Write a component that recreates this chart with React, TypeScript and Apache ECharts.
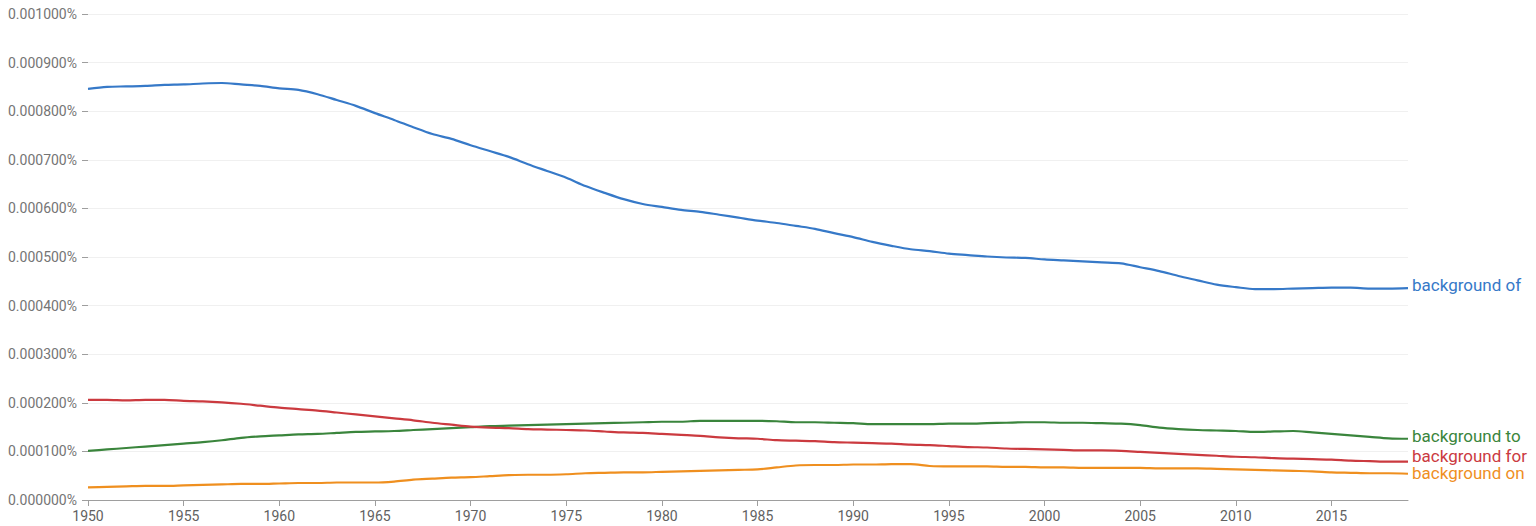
import React, { useEffect, useRef } from "react";
import * as echarts from "echarts";

const years: string[] = [];
for (let y = 1950; y <= 2019; y++) years.push(String(y));

const bgOf = [
  0.000846, 0.00085, 0.000851, 0.000852, 0.000854, 0.000855, 0.000857, 0.000858, 0.000855, 0.000852,
  0.000847, 0.000844, 0.000835, 0.000823, 0.000811, 0.000796, 0.000782, 0.000767, 0.000753, 0.000743,
  0.00073, 0.000718, 0.000706, 0.000691, 0.000677, 0.000663, 0.000646, 0.000632, 0.000619, 0.000609,
  0.000603, 0.000597, 0.000593, 0.000587, 0.000581, 0.000575, 0.00057, 0.000564, 0.000558, 0.000549,
  0.000541, 0.000531, 0.000523, 0.000516, 0.000512, 0.000507, 0.000504, 0.000501, 0.000499, 0.000498,
  0.000495, 0.000493, 0.000491, 0.000489, 0.000487, 0.000479, 0.000471, 0.000461, 0.000452, 0.000443,
  0.000438, 0.000434, 0.000434, 0.000435, 0.000436, 0.000437, 0.000437, 0.000435, 0.000435, 0.000436,
];

const bgTo = [
  0.000101, 0.000104, 0.000107, 0.00011, 0.000113, 0.000116, 0.000119, 0.000123, 0.000128, 0.000131,
  0.000133, 0.000135, 0.000136, 0.000138, 0.00014, 0.000141, 0.000142, 0.000144, 0.000146, 0.000148,
  0.00015, 0.000152, 0.000153, 0.000154, 0.000155, 0.000156, 0.000157, 0.000158, 0.000159, 0.00016,
  0.000161, 0.000161, 0.000163, 0.000163, 0.000163, 0.000163, 0.000162, 0.00016, 0.00016, 0.000159,
  0.000158, 0.000156, 0.000156, 0.000156, 0.000156, 0.000157, 0.000157, 0.000158, 0.000159, 0.00016,
  0.00016, 0.000159, 0.000159, 0.000158, 0.000157, 0.000154, 0.000149, 0.000146, 0.000144, 0.000143,
  0.000142, 0.00014, 0.000141, 0.000142, 0.000139, 0.000136, 0.000133, 0.00013, 0.000127, 0.000126,
];

const bgFor = [
  0.000206, 0.000206, 0.000205, 0.000206, 0.000206, 0.000204, 0.000203, 0.000201, 0.000198, 0.000194,
  0.00019, 0.000187, 0.000184, 0.00018, 0.000176, 0.000172, 0.000168, 0.000164, 0.000159, 0.000155,
  0.000151, 0.000149, 0.000148, 0.000146, 0.000145, 0.000144, 0.000143, 0.000141, 0.000139, 0.000138,
  0.000136, 0.000134, 0.000132, 0.000129, 0.000127, 0.000126, 0.000123, 0.000122, 0.000121, 0.000119,
  0.000118, 0.000117, 0.000116, 0.000114, 0.000113, 0.000111, 0.000109, 0.000108, 0.000106, 0.000105,
  0.000104, 0.000103, 0.000102, 0.000102, 0.000101, 0.000099, 0.000097, 0.000095, 0.000093, 0.000091,
  0.000089, 0.000088, 0.000086, 0.000085, 0.000084, 0.000083, 0.000081, 0.00008, 0.000079, 0.000079,
];

const bgOn = [
  0.000026, 0.000027, 0.000028, 0.000029, 0.000029, 0.00003, 0.000031, 0.000032, 0.000033, 0.000033,
  0.000034, 0.000035, 0.000035, 0.000036, 0.000036, 0.000036, 0.000038, 0.000042, 0.000044, 0.000046,
  0.000047, 0.000049, 0.000051, 0.000052, 0.000052, 0.000053, 0.000055, 0.000056, 0.000057, 0.000057,
  0.000058, 0.000059, 0.00006, 0.000061, 0.000062, 0.000063, 0.000067, 0.000071, 0.000072, 0.000072,
  0.000073, 0.000073, 0.000074, 0.000074, 0.00007, 0.000069, 0.000069, 0.000069, 0.000068, 0.000068,
  0.000067, 0.000067, 0.000066, 0.000066, 0.000066, 0.000066, 0.000065, 0.000065, 0.000065, 0.000064,
  0.000063, 0.000062, 0.000061, 0.00006, 0.000059, 0.000057, 0.000056, 0.000055, 0.000055, 0.000054,
];

const seriesNames = ["background of", "background to", "background for", "background on"];
const seriesColors = ["#3679c8", "#3a853c", "#cb3a3f", "#ef8f1f"];
const labelOffsets: number[][] = [[0, -3], [0, -3], [0, -6], [0, -1]];
const seriesData = [bgOf, bgTo, bgFor, bgOn];

export default function App() {
  const ref = useRef<HTMLDivElement>(null);
  useEffect(() => {
    if (!ref.current) return;
    const chart = echarts.init(ref.current, undefined, { renderer: "svg" });
    chart.setOption({
      animation: false,
      backgroundColor: "#ffffff",
      textStyle: { fontFamily: "Roboto" },
      grid: { left: 88, right: 128, top: 14, bottom: 26, containLabel: false },
      xAxis: {
        type: "category",
        data: years,
        boundaryGap: false,
        axisLine: { show: true, lineStyle: { color: "#9e9e9e", width: 1 } },
        axisTick: {
          show: true,
          length: 6,
          interval: (_i: number, v: string) => Number(v) % 5 === 0,
          lineStyle: { color: "#9e9e9e" },
        },
        axisLabel: {
          interval: (_i: number, v: string) => Number(v) % 5 === 0,
          color: "#616161",
          fontSize: 14,
          margin: 9,
          fontFamily: "Roboto",
        },
        splitLine: { show: false },
      },
      yAxis: {
        type: "value",
        min: 0,
        max: 0.001,
        interval: 0.0001,
        axisLine: { show: false },
        axisTick: { show: true, length: 6, lineStyle: { color: "#9e9e9e" } },
        axisLabel: {
          formatter: (v: number) => v.toFixed(6) + "%",
          color: "#757575",
          fontSize: 14,
          margin: 11,
          fontFamily: "Roboto",
        },
        splitLine: { show: true, lineStyle: { color: "#f0f0f0", width: 1 } },
      },
      series: seriesNames.map((name, i) => ({
        name,
        type: "line",
        data: seriesData[i],
        smooth: 0.3,
        symbol: "none",
        lineStyle: { color: seriesColors[i], width: 2.2 },
        itemStyle: { color: seriesColors[i] },
        endLabel: {
          show: true,
          formatter: name,
          color: seriesColors[i],
          fontSize: 17,
          distance: 4,
          offset: labelOffsets[i],
          fontFamily: "Roboto",
        },
      })),
    });
    return () => chart.dispose();
  }, []);
  return (
    <div
      ref={ref}
      style={{ position: "fixed", left: 0, top: 0, width: 1536, height: 526, background: "#fff" }}
    />
  );
}
